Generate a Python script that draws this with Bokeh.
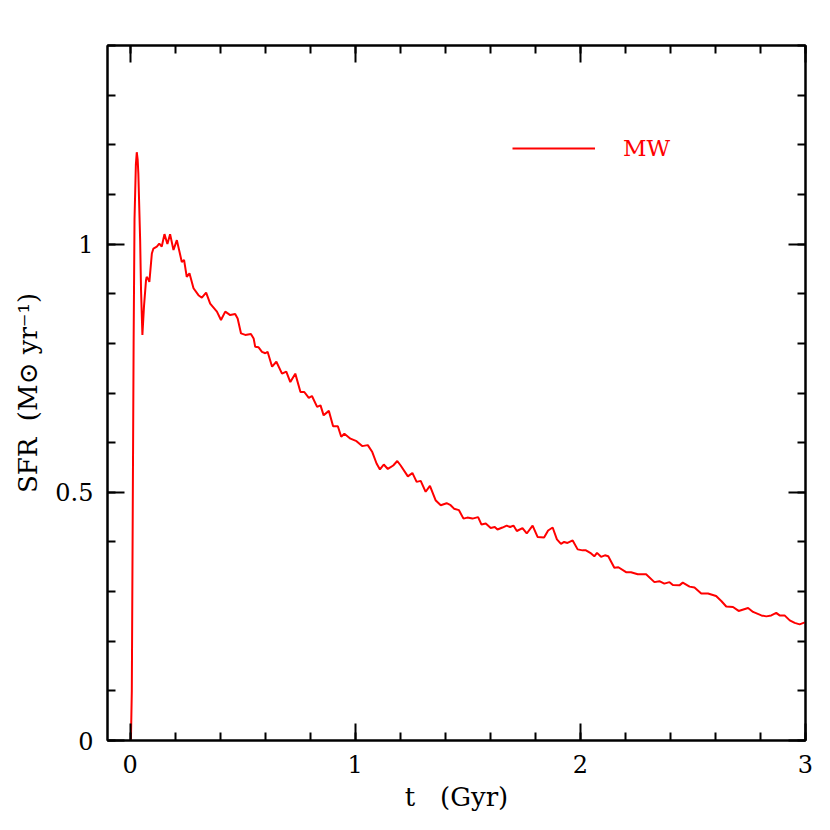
from bokeh.plotting import figure
from bokeh.models import Range1d, LinearAxis, SingleIntervalTicker, Legend, LegendItem
from bokeh.embed import file_html
from bokeh.resources import INLINE

t_gyr = [0.004, 0.008, 0.012, 0.016, 0.020, 0.026, 0.030, 0.034, 0.037, 0.045,
         0.049, 0.055, 0.062, 0.071, 0.074, 0.080, 0.086, 0.097, 0.104, 0.119,
         0.130, 0.141, 0.153, 0.166, 0.178, 0.193, 0.208, 0.230, 0.240, 0.252,
         0.264, 0.282, 0.304, 0.319, 0.338, 0.356, 0.386, 0.404, 0.423, 0.445,
         0.467, 0.478, 0.493, 0.512, 0.537, 0.549, 0.556, 0.571, 0.586, 0.601,
         0.611, 0.631, 0.650, 0.675, 0.694, 0.712, 0.734, 0.757, 0.774, 0.794,
         0.808, 0.831, 0.846, 0.860, 0.883, 0.902, 0.923, 0.938, 0.952, 0.979,
         1.006, 1.031, 1.056, 1.076, 1.095, 1.110, 1.127, 1.145, 1.169, 1.187,
         1.202, 1.234, 1.254, 1.273, 1.291, 1.313, 1.332, 1.357, 1.380, 1.406,
         1.424, 1.439, 1.461, 1.481, 1.498, 1.521, 1.546, 1.561, 1.580, 1.602,
         1.620, 1.632, 1.654, 1.673, 1.688, 1.703, 1.718, 1.743, 1.762, 1.788,
         1.810, 1.839, 1.857, 1.877, 1.896, 1.914, 1.928, 1.943, 1.966, 1.988,
         2.010, 2.025, 2.044, 2.062, 2.074, 2.092, 2.109, 2.124, 2.151, 2.169,
         2.203, 2.225, 2.255, 2.292, 2.329, 2.351, 2.373, 2.396, 2.411, 2.440,
         2.455, 2.485, 2.507, 2.537, 2.567, 2.603, 2.626, 2.648, 2.678, 2.703,
         2.745, 2.767, 2.804, 2.826, 2.848, 2.870, 2.885, 2.907, 2.930, 2.952,
         2.974, 2.997]

sfr_mw = [0.0, 0.10, 0.45, 0.80, 1.05, 1.16, 1.185, 1.17, 1.142, 1.008,
          0.907, 0.817, 0.874, 0.927, 0.934, 0.930, 0.924, 0.981, 0.991, 0.995,
          1.001, 0.995, 1.020, 1.000, 1.020, 0.988, 1.008, 0.964, 0.968, 0.934,
          0.941, 0.911, 0.897, 0.892, 0.902, 0.880, 0.864, 0.847, 0.864, 0.857,
          0.859, 0.850, 0.820, 0.817, 0.819, 0.810, 0.793, 0.792, 0.783, 0.780,
          0.783, 0.753, 0.763, 0.739, 0.743, 0.722, 0.739, 0.702, 0.702, 0.690,
          0.694, 0.672, 0.675, 0.655, 0.664, 0.633, 0.633, 0.612, 0.618, 0.608,
          0.603, 0.593, 0.595, 0.581, 0.558, 0.546, 0.556, 0.547, 0.554, 0.563,
          0.554, 0.532, 0.539, 0.521, 0.523, 0.501, 0.513, 0.484, 0.474, 0.478,
          0.474, 0.467, 0.464, 0.447, 0.449, 0.447, 0.450, 0.435, 0.437, 0.428,
          0.430, 0.425, 0.429, 0.433, 0.430, 0.433, 0.422, 0.428, 0.417, 0.433,
          0.410, 0.409, 0.423, 0.429, 0.405, 0.396, 0.400, 0.398, 0.403, 0.385,
          0.383, 0.383, 0.378, 0.371, 0.378, 0.370, 0.373, 0.371, 0.348, 0.349,
          0.339, 0.339, 0.335, 0.335, 0.319, 0.321, 0.316, 0.319, 0.313, 0.3125,
          0.318, 0.310, 0.308, 0.296, 0.296, 0.291, 0.281, 0.270, 0.269, 0.261,
          0.267, 0.259, 0.252, 0.250, 0.252, 0.257, 0.252, 0.252, 0.242, 0.237,
          0.234, 0.238]

x_label = "t\u00a0\u00a0\u00a0(Gyr)"
y_label = "SFR\u00a0\u00a0(M\u2299\u00a0yr\u207b\u00b9)"
series_name = "MW"

FONT = "DejaVu Serif"
TICK_FS = "24px"
LABEL_FS = "26px"

p = figure(frame_width=698, frame_height=695,
           x_range=Range1d(-0.1, 3.0), y_range=Range1d(0, 1.4),
           output_backend="svg", toolbar_location=None,
           x_axis_location=None, y_axis_location=None,
           min_border_left=107, min_border_top=45, min_border_right=12, min_border_bottom=75)
p.xgrid.visible = False
p.ygrid.visible = False
p.outline_line_color = "black"
p.outline_line_width = 2
p.background_fill_color = "white"
p.border_fill_color = "white"


def style(ax, show_labels):
    ax.axis_line_width = 2
    ax.axis_line_color = "black"
    ax.major_tick_line_color = "black"
    ax.minor_tick_line_color = "black"
    ax.major_tick_line_width = 2
    ax.minor_tick_line_width = 2
    ax.major_tick_in = 17
    ax.major_tick_out = 0
    ax.minor_tick_in = 8
    ax.minor_tick_out = 0
    ax.major_label_text_font = FONT
    ax.axis_label_text_font = FONT
    ax.axis_label_text_font_style = "normal"
    ax.axis_label_text_font_size = LABEL_FS
    ax.axis_label_text_color = "black"
    if show_labels:
        ax.major_label_text_font_size = TICK_FS
        ax.major_label_text_color = "black"
    else:
        ax.major_label_text_font_size = "1px"
        ax.major_label_text_color = None
        ax.major_label_standoff = 0


def xt():
    return SingleIntervalTicker(interval=1, num_minor_ticks=5)


def yt():
    return SingleIntervalTicker(interval=0.5, num_minor_ticks=5)


bottom = LinearAxis(ticker=xt(), axis_label=x_label)
style(bottom, True)
bottom.major_label_standoff = 14
bottom.axis_label_standoff = 6
p.add_layout(bottom, "below")

left = LinearAxis(ticker=yt(), axis_label=y_label)
style(left, True)
left.major_label_standoff = 14
left.axis_label_standoff = 9
p.add_layout(left, "left")

top = LinearAxis(ticker=xt())
style(top, False)
p.add_layout(top, "above")

right = LinearAxis(ticker=yt())
style(right, False)
p.add_layout(right, "right")

r = p.line(t_gyr, sfr_mw, line_color="#ff0000", line_width=2)

legend = Legend(items=[LegendItem(label=series_name, renderers=[r])],
                location=(405, 578), glyph_width=83, glyph_height=28,
                label_height=28, label_standoff=28, padding=0, margin=0,
                border_line_color=None, background_fill_alpha=0,
                label_text_font=FONT, label_text_font_size="23px",
                label_text_color="#ff0000")
p.add_layout(legend, "center")

open("out.html", "w").write(file_html(p, INLINE))
